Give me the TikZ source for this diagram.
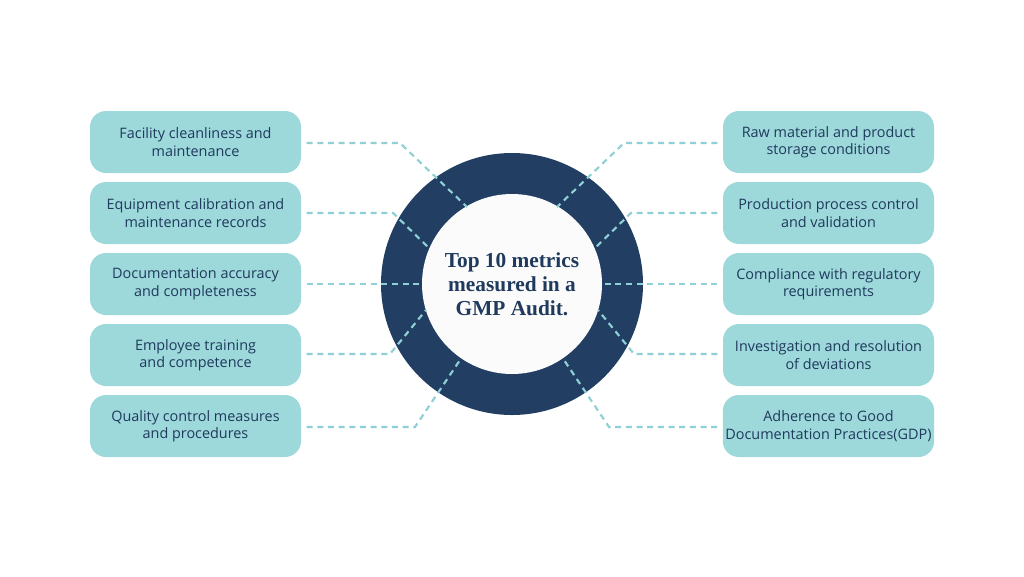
\documentclass[tikz,border=0pt]{standalone}
\usepackage{fontspec}
\setmainfont{Open Sans}
\newfontfamily\titlefont{Liberation Serif}
\definecolor{boxc}{HTML}{9DD8DB}
\definecolor{navy}{HTML}{223F63}
\definecolor{dashc}{HTML}{8FCFD6}
\definecolor{txt}{HTML}{1F3A5C}
\tikzset{
  mbox/.style={fill=boxc,rounded corners=12pt,minimum width=158.25pt,minimum height=46.5pt,align=center,font=\fontsize{10.8}{13}\selectfont,text=txt,inner sep=2pt},
  conn/.style={draw=dashc,line width=1.6pt,dash pattern=on 4.5pt off 3.5pt}
}
\begin{document}
\begin{tikzpicture}[x=0.75pt,y=-0.75pt]
\useasboundingbox (0,0) rectangle (1024,576);
\fill[white] (0,0) rectangle (1024,576);
\fill[navy] (512,284) circle (131);
\fill[white!97!gray] (512,284) circle (90);
% left boxes
\node[mbox] (l1) at (195.5,142) {Facility cleanliness and\\maintenance};
\node[mbox] (l2) at (195.5,213) {Equipment calibration and\\maintenance records};
\node[mbox] (l3) at (195.5,284) {Documentation accuracy\\and completeness};
\node[mbox] (l4) at (195.5,355) {Employee training\\and competence};
\node[mbox] (l5) at (195.5,426) {Quality control measures\\and procedures};
% right boxes
\node[mbox] (r1) at (828.5,142) {Raw material and product\\storage conditions};
\node[mbox] (r2) at (828.5,213) {Production process control\\and validation};
\node[mbox] (r3) at (828.5,284) {Compliance with regulatory\\requirements};
\node[mbox] (r4) at (828.5,355) {Investigation and resolution\\of deviations};
\node[mbox] (r5) at (828.5,426) {Adherence to Good\\Documentation Practices(GDP)};
\node[font=\titlefont\bfseries\fontsize{16}{18}\selectfont,text=txt,align=center] (t) at (512,284) {Top 10 metrics\\measured in a\\GMP Audit.};
% coordinates
\coordinate (a1) at (400,143); \coordinate (e1) at (467,207);
\coordinate (a2) at (393,213); \coordinate (e2) at (428,247);
\coordinate (e3) at (422,284);
\coordinate (a4) at (390,354); \coordinate (e4) at (426,310);
\coordinate (a5) at (415,427); \coordinate (e5) at (460,360);
\coordinate (b1) at (624,143); \coordinate (f1) at (557,207);
\coordinate (b2) at (631,213); \coordinate (f2) at (596,247);
\coordinate (f3) at (602,284);
\coordinate (b4) at (634,354); \coordinate (f4) at (598,310);
\coordinate (b5) at (609,427); \coordinate (f5) at (564,360);
\draw[conn] ([xshift=4pt]l1.east |- a1) -- (a1) -- (e1);
\draw[conn] ([xshift=4pt]l2.east |- a2) -- (a2) -- (e2);
\draw[conn] ([xshift=4pt]l3.east) -- (e3);
\draw[conn] ([xshift=4pt]l4.east |- a4) -- (a4) -- (e4);
\draw[conn] ([xshift=4pt]l5.east |- a5) -- (a5) -- (e5);
\draw[conn] ([xshift=-4pt]r1.west |- b1) -- (b1) -- (f1);
\draw[conn] ([xshift=-4pt]r2.west |- b2) -- (b2) -- (f2);
\draw[conn] ([xshift=-4pt]r3.west) -- (f3);
\draw[conn] ([xshift=-4pt]r4.west |- b4) -- (b4) -- (f4);
\draw[conn] ([xshift=-4pt]r5.west |- b5) -- (b5) -- (f5);
\end{tikzpicture}
\end{document}
